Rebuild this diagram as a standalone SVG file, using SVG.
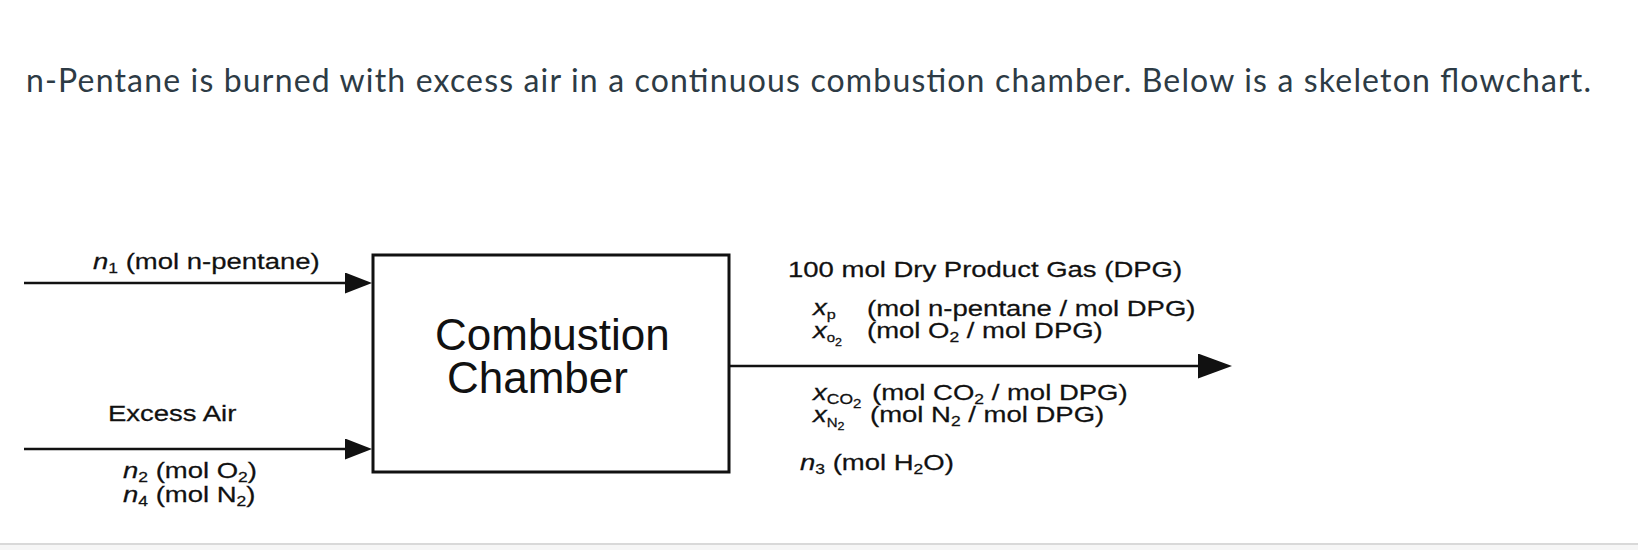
<svg xmlns="http://www.w3.org/2000/svg" width="1638" height="550" viewBox="0 0 1638 550">
<defs>
<style>
.intro{font-family:Lato,"Liberation Sans",sans-serif;font-size:32px;fill:#2d3b45}
.lbl{font-family:"Liberation Sans",Arial,sans-serif;font-size:22px;fill:#111;stroke:#111;stroke-width:0.25}
.big{font-family:"Liberation Sans",Arial,sans-serif;font-size:44px;fill:#111}
.it{font-style:italic}
.flow{stroke:#111;stroke-width:2.6;fill:none}
.box{stroke:#111;stroke-width:3;fill:#fff}
</style>
<marker id="arrIn" markerUnits="userSpaceOnUse" markerWidth="28" markerHeight="22" refX="5" refY="10.5" orient="auto">
<path d="M0,0 L27,10.5 L0,21 z" fill="#111"/>
</marker>
<marker id="arrOut" markerUnits="userSpaceOnUse" markerWidth="35" markerHeight="26" refX="7" refY="12.5" orient="auto">
<path d="M0,0 L34,12.5 L0,25 z" fill="#111"/>
</marker>
</defs>
<rect x="0" y="0" width="1638" height="550" fill="#fff"/>
<rect x="0" y="543" width="1638" height="2" fill="#d9d9d9"/>
<rect x="0" y="545" width="1638" height="5" fill="#f6f6f6"/>
<text class="intro" x="26" y="92" textLength="1565" lengthAdjust="spacing">n-Pentane is burned with excess air in a continuous combustion chamber. Below is a skeleton flowchart.</text>
<g id="connectors">
<line id="feed-pentane" class="flow" x1="24" y1="283" x2="350" y2="283" marker-end="url(#arrIn)"/>
<line id="feed-air" class="flow" x1="24" y1="449" x2="350" y2="449" marker-end="url(#arrIn)"/>
<line id="product" class="flow" x1="729" y1="366" x2="1205" y2="366" marker-end="url(#arrOut)"/>
</g>
<g id="combustion-chamber">
<rect class="box" x="373" y="255" width="356" height="217"/>
<text class="big" x="435" y="350">Combustion</text>
<text class="big" x="447" y="393">Chamber</text>
</g>
<g id="label-pentane">
<text class="lbl" transform="translate(93,269) scale(1.25,1)"><tspan class="it">n</tspan><tspan font-size="14" dy="4">1</tspan><tspan dy="-4"> (mol n-pentane)</tspan></text>
</g>
<g id="label-air">
<text class="lbl" transform="translate(108,421) scale(1.25,1)">Excess Air</text>
<text class="lbl" transform="translate(123,478) scale(1.25,1)"><tspan class="it">n</tspan><tspan font-size="14" dy="4">2</tspan><tspan dy="-4"> (mol O</tspan><tspan font-size="14" dy="4">2</tspan><tspan dy="-4">)</tspan></text>
<text class="lbl" transform="translate(123,502) scale(1.25,1)"><tspan class="it">n</tspan><tspan font-size="14" dy="4">4</tspan><tspan dy="-4"> (mol N</tspan><tspan font-size="14" dy="4">2</tspan><tspan dy="-4">)</tspan></text>
</g>
<g id="label-product">
<text class="lbl" transform="translate(788,277) scale(1.25,1)">100 mol Dry Product Gas (DPG)</text>
<text class="lbl" transform="translate(813,315) scale(1.25,1)"><tspan class="it">x</tspan><tspan font-size="13" dy="4">p</tspan></text>
<text class="lbl" transform="translate(867,316) scale(1.25,1)">(mol n-pentane / mol DPG)</text>
<text class="lbl" transform="translate(813,338) scale(1.25,1)"><tspan class="it">x</tspan><tspan font-size="12" dy="4">o</tspan><tspan font-size="10" dy="4">2</tspan></text>
<text class="lbl" transform="translate(867,338) scale(1.25,1)">(mol O<tspan font-size="14" dy="4">2</tspan><tspan dy="-4"> / mol DPG)</tspan></text>
<text class="lbl" transform="translate(813,400) scale(1.25,1)"><tspan class="it">x</tspan><tspan font-size="14" dy="4">CO</tspan><tspan font-size="12" dy="4">2</tspan></text>
<text class="lbl" transform="translate(872,400) scale(1.25,1)">(mol CO<tspan font-size="14" dy="4">2</tspan><tspan dy="-4"> / mol DPG)</tspan></text>
<text class="lbl" transform="translate(813,422) scale(1.25,1)"><tspan class="it">x</tspan><tspan font-size="12" dy="5">N</tspan><tspan font-size="10" dy="3">2</tspan></text>
<text class="lbl" transform="translate(870,422) scale(1.25,1)">(mol N<tspan font-size="14" dy="4">2</tspan><tspan dy="-4"> / mol DPG)</tspan></text>
<text class="lbl" transform="translate(800,470) scale(1.25,1)"><tspan class="it">n</tspan><tspan font-size="14" dy="4">3</tspan><tspan dy="-4"> (mol H</tspan><tspan font-size="14" dy="4">2</tspan><tspan dy="-4">O)</tspan></text>
</g>
</svg>
